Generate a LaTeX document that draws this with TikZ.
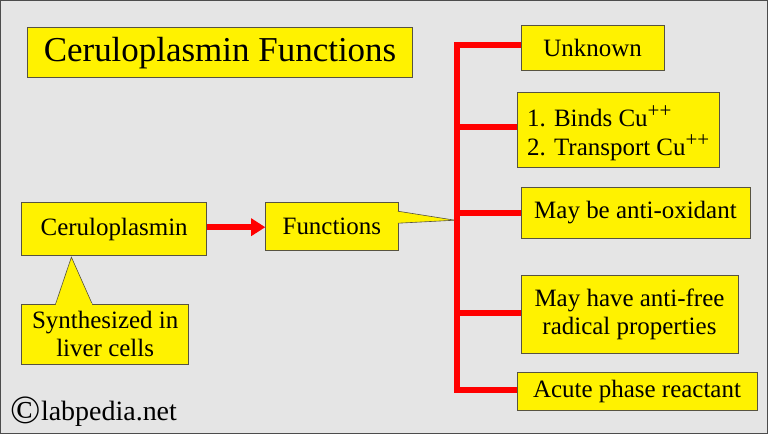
\documentclass[tikz,border=0pt]{standalone}
\usetikzlibrary{arrows.meta}
\usepackage{fontspec}
\setmainfont{Liberation Serif}
\begin{document}
\begin{tikzpicture}[x=1pt,y=-1pt,
  yb/.style={draw=black!60!yellow!60!black,fill=yellow,line width=0.6pt,inner sep=0pt,font=\fontsize{25}{28}\selectfont},
  red line/.style={draw=red,line width=6pt}]
\fill[black!10,draw=black!70,line width=1pt] (0,0) rectangle (768,434);
\node[yb,minimum width=385,minimum height=50,anchor=north west,font=\fontsize{35}{38}\selectfont] (t) at (27,27) {Ceruloplasmin Functions};
\node[yb,minimum width=185,minimum height=53,anchor=north west] (c) at (21,202) {Ceruloplasmin};
\node[yb,minimum width=133,minimum height=48,anchor=north west] (f) at (265,202) {Functions};
\coordinate (fp) at (455,220);
\fill[yellow,draw=black!60!yellow!60!black,line width=0.6pt] (398,211) -- (fp) -- (398,223);
\node[yb,minimum width=167,minimum height=60,anchor=north west,align=center] (s) at (21,304) {Synthesized in\\liver cells};
\coordinate (sp) at (71,257);
\filldraw[fill=yellow,draw=black!60!yellow!60!black,line width=0.6pt] (55,304.3) -- (sp) -- (92,304.3);
\fill[yellow] (55.5,303) rectangle (91.5,306);
\coordinate (ah) at (265,227);
\draw[red line] (c.east|-{(0,227)}) -- (252,227);
\fill[red] (ah) -- (251,218) -- (251,236) -- cycle;
\node[yb,minimum width=143,minimum height=45,anchor=north west] (u) at (521,25) {Unknown};
\node[yb,minimum width=202,minimum height=75,anchor=north west] (b) at (517,92) {};
\node[anchor=west,align=left,inner sep=0pt,font=\fontsize{25}{29}\selectfont] (bt) at (527,133) {1. Binds Cu\textsuperscript{\fontsize{21}{21}\selectfont++}\\2. Transport Cu\textsuperscript{\fontsize{21}{21}\selectfont++}};
\node[yb,minimum width=229,minimum height=51,anchor=north west] (a) at (521,187) {May be anti-oxidant};
\node[yb,minimum width=217,minimum height=78,anchor=north west,align=center] (r) at (521,275) {May have anti-free\\radical properties};
\node[yb,minimum width=240,minimum height=38,anchor=north west] (p) at (517,372) {Acute phase reactant};
\coordinate (top) at (457,45);
\coordinate (bot) at (457,390);
\draw[red line] (u.west|-top) -- (top) -- (bot) -- (p.west|-bot);
\draw[red line] (457,127) -- (b.west|-{(0,127)});
\draw[red line] (457,213) -- (a.west|-{(0,213)});
\draw[red line] (457,313) -- (r.west|-{(0,313)});
\node[anchor=west,font=\fontsize{28}{30}\selectfont,inner sep=0pt] (l) at (10,412) {\raisebox{-0.25ex}{\fontsize{40}{40}\selectfont\char"00A9}labpedia.net};
\end{tikzpicture}
\end{document}
